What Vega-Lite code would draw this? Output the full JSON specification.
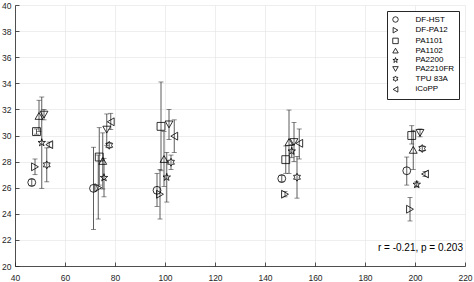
{
  "$schema": "https://vega.github.io/schema/vega-lite/v6.json",
  "width": 450,
  "height": 261,
  "autosize": {"type": "none"},
  "padding": {"left": 15, "top": 5, "right": 9, "bottom": 16},
  "background": "white",
  "config": {
    "view": {"stroke": null},
    "font": "Liberation Sans",
    "axis": {
      "labelFont": "Liberation Sans",
      "labelFontSize": 8.5,
      "labelColor": "#262626",
      "labelOverlap": false,
      "labelFlush": false,
      "domainColor": "#262626",
      "domainWidth": 0.8,
      "tickColor": "#262626",
      "tickWidth": 0.8,
      "tickSize": -4,
      "gridColor": "#e3e3e3",
      "gridWidth": 0.6,
      "title": null
    },
    "axisX": {"labelPadding": 11, "labelBaseline": "top"},
    "axisY": {"labelPadding": 8},
    "legend": {
      "rowPadding": 0.7,
      "symbolSize": 30,
      "labelFontSize": 8
    }
  },
  "datasets": {
    "pts": [
      {"s": "DF-HST", "x": 46.7, "y": 26.4, "lo": 26.15, "hi": 26.65},
      {"s": "DF-HST", "x": 71.4, "y": 25.95, "lo": 22.8, "hi": 29.1},
      {"s": "DF-HST", "x": 96.8, "y": 25.8, "lo": 24.55, "hi": 27.1},
      {"s": "DF-HST", "x": 146.7, "y": 26.7, "lo": 26.45, "hi": 26.95},
      {"s": "DF-HST", "x": 196.7, "y": 27.3, "lo": 26.2, "hi": 28.35},

      {"s": "DF-PA12", "x": 48, "y": 27.6, "lo": 27.0, "hi": 28.2},
      {"s": "DF-PA12", "x": 73.3, "y": 26.0, "lo": 23.6, "hi": 28.5},
      {"s": "DF-PA12", "x": 98, "y": 25.5, "lo": 23.6, "hi": 27.4},
      {"s": "DF-PA12", "x": 148, "y": 25.5, "lo": 25.3, "hi": 25.7},
      {"s": "DF-PA12", "x": 198, "y": 24.35, "lo": 23.45, "hi": 25.25},

      {"s": "PA1101", "x": 48.6, "y": 30.3, "lo": 30.1, "hi": 30.5},
      {"s": "PA1101", "x": 73.7, "y": 28.35, "lo": 26.2, "hi": 30.6},
      {"s": "PA1101", "x": 98.4, "y": 30.7, "lo": 27.3, "hi": 34.1},
      {"s": "PA1101", "x": 148.3, "y": 28.15, "lo": 27.1, "hi": 29.2},
      {"s": "PA1101", "x": 198.7, "y": 30.0, "lo": 29.35, "hi": 30.75},

      {"s": "PA1102", "x": 49.6, "y": 31.5, "lo": 30.3, "hi": 32.7},
      {"s": "PA1102", "x": 75.1, "y": 28.05, "lo": 25.9, "hi": 30.2},
      {"s": "PA1102", "x": 99.6, "y": 28.2, "lo": 26.1, "hi": 30.3},
      {"s": "PA1102", "x": 149.6, "y": 29.5, "lo": 27.1, "hi": 31.95},
      {"s": "PA1102", "x": 199.3, "y": 28.9, "lo": 27.4, "hi": 30.4},

      {"s": "PA2200", "x": 50.7, "y": 29.45, "lo": 25.95, "hi": 32.95},
      {"s": "PA2200", "x": 75.6, "y": 26.77, "lo": 25.3, "hi": 28.25},
      {"s": "PA2200", "x": 100.7, "y": 26.8, "lo": 24.9, "hi": 28.7},
      {"s": "PA2200", "x": 150.7, "y": 28.8, "lo": 28.3, "hi": 29.3},
      {"s": "PA2200", "x": 200.7, "y": 26.25, "lo": 26.05, "hi": 26.45},

      {"s": "PA2210FR", "x": 51.6, "y": 31.6, "lo": 31.2, "hi": 32.0},
      {"s": "PA2210FR", "x": 76.7, "y": 30.45, "lo": 29.25, "hi": 31.65},
      {"s": "PA2210FR", "x": 101.6, "y": 30.85, "lo": 29.7, "hi": 32.0},
      {"s": "PA2210FR", "x": 151.6, "y": 29.5, "lo": 28.0, "hi": 31.0},
      {"s": "PA2210FR", "x": 202, "y": 30.2, "lo": 29.9, "hi": 30.5},

      {"s": "TPU 83A", "x": 52.7, "y": 27.75, "lo": 26.45, "hi": 29.05},
      {"s": "TPU 83A", "x": 77.7, "y": 29.25, "lo": 29.05, "hi": 29.45},
      {"s": "TPU 83A", "x": 102.4, "y": 27.95, "lo": 27.4, "hi": 28.5},
      {"s": "TPU 83A", "x": 152.8, "y": 26.8, "lo": 25.2, "hi": 28.4},
      {"s": "TPU 83A", "x": 202.9, "y": 29.0, "lo": 28.8, "hi": 29.2},

      {"s": "iCoPP", "x": 53.7, "y": 29.3, "lo": 29.1, "hi": 29.5},
      {"s": "iCoPP", "x": 78.3, "y": 31.05, "lo": 30.45, "hi": 31.7},
      {"s": "iCoPP", "x": 103.7, "y": 29.95, "lo": 28.7, "hi": 31.2},
      {"s": "iCoPP", "x": 153.7, "y": 29.4, "lo": 28.2, "hi": 30.5},
      {"s": "iCoPP", "x": 204, "y": 27.05, "lo": 26.85, "hi": 27.25}
    ],
    "note": [
      {"x": 219.2, "y": 21.15, "label": "r = -0.21, p = 0.203"}
    ]
  },
  "encoding": {
    "x": {"field": "x", "type": "quantitative", "scale": {"domain": [40, 220], "nice": false, "zero": false},
          "axis": {"values": [40, 60, 80, 100, 120, 140, 160, 180, 200, 220]}}
  },
  "layer": [
    {
      "data": {"name": "pts"},
      "mark": {"type": "rule", "color": "#333333", "strokeWidth": 0.8},
      "encoding": {
        "y": {"field": "lo", "type": "quantitative", "scale": {"domain": [20, 40], "nice": false, "zero": false},
              "axis": {"values": [20, 22, 24, 26, 28, 30, 32, 34, 36, 38, 40], "tickCount": 11}},
        "y2": {"field": "hi"}
      }
    },
    {
      "data": {"name": "pts"},
      "mark": {"type": "tick", "orient": "horizontal", "size": 5, "thickness": 0.8, "color": "#333333"},
      "encoding": {
        "y": {"field": "lo", "type": "quantitative",
              "axis": {"values": [20, 22, 24, 26, 28, 30, 32, 34, 36, 38, 40], "tickCount": 11}}
      }
    },
    {
      "data": {"name": "pts"},
      "mark": {"type": "tick", "orient": "horizontal", "size": 5, "thickness": 0.8, "color": "#333333"},
      "encoding": {
        "y": {"field": "hi", "type": "quantitative",
              "axis": {"values": [20, 22, 24, 26, 28, 30, 32, 34, 36, 38, 40], "tickCount": 11}}
      }
    },
    {
      "data": {"name": "pts"},
      "mark": {"type": "point", "filled": false, "stroke": "#000000", "strokeWidth": 0.8, "opacity": 1, "size": 62},
      "encoding": {
        "y": {"field": "y", "type": "quantitative",
              "axis": {"values": [20, 22, 24, 26, 28, 30, 32, 34, 36, 38, 40], "tickCount": 11}},
        "shape": {
          "field": "s",
          "type": "nominal",
          "scale": {
            "domain": ["DF-HST", "DF-PA12", "PA1101", "PA1102", "PA2200", "PA2210FR", "TPU 83A", "iCoPP"],
            "range": [
              "circle",
              "triangle-right",
              "square",
              "triangle-up",
              "M0,-1L0.2245,-0.309L0.951,-0.309L0.363,0.118L0.588,0.809L0,0.382L-0.588,0.809L-0.363,0.118L-0.951,-0.309L-0.2245,-0.309Z",
              "triangle-down",
              "M0,-1L0.2887,-0.5L0.866,-0.5L0.577,0L0.866,0.5L0.2887,0.5L0,1L-0.2887,0.5L-0.866,0.5L-0.577,0L-0.866,-0.5L-0.2887,-0.5Z",
              "triangle-left"
            ]
          },
          "legend": {
            "title": null,
            "orient": "top-right",
            "offset": 6,
            "strokeColor": "#262626",
            "fillColor": "white",
            "padding": 4.5,
            "rowPadding": 0.7,
            "labelFont": "Liberation Sans",
            "labelFontSize": 8,
            "labelColor": "#000000",
            "labelOffset": 16,
            "symbolSize": 30,
            "symbolStrokeColor": "#000000",
            "symbolStrokeWidth": 0.8,
            "symbolFillColor": "transparent"
          }
        }
      }
    },
    {
      "data": {"name": "note"},
      "mark": {"type": "text", "align": "right", "baseline": "alphabetic", "fontSize": 10, "font": "Liberation Sans", "color": "#000000"},
      "encoding": {
        "y": {"field": "y", "type": "quantitative"},
        "text": {"field": "label"}
      }
    }
  ]
}
